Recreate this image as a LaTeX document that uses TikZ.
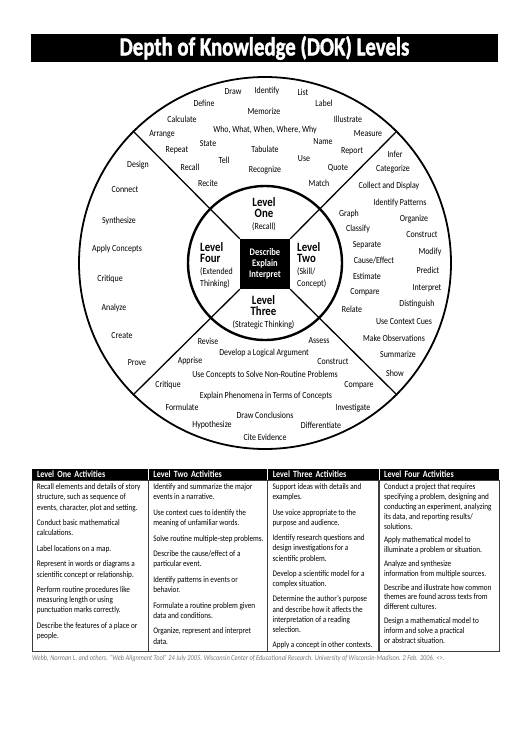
\documentclass[tikz,border=0pt]{standalone}
\usepackage{fontspec}
\setmainfont{Carlito}[FakeStretch=0.85]
\newfontfamily\titlefont{Carlito}[FakeStretch=0.8, FakeBold=1.5]
\usepackage{tikz}
\usetikzlibrary{positioning}
\definecolor{RuleGray}{RGB}{60,60,60}
\definecolor{CiteGray}{RGB}{120,120,120}
\newcommand\lvbf[1]{{\bfseries\fontsize{12.7}{11.6}\selectfont #1}}

\begin{document}
\begin{tikzpicture}[
    x=1pt, y=-1pt,
    word/.style={font=\fontsize{9.3}{10}\selectfont, inner sep=0pt},
    lvl/.style={font=\fontsize{9.3}{11.6}\selectfont, align=center, inner sep=0pt},
    hub/.style={rectangle, fill=black, minimum size=50pt, inner sep=0pt, text=white,
        align=center, font=\bfseries\fontsize{10}{11}\selectfont},
    spoke/.style={line width=1.3pt},
    head/.style={rectangle, fill=black, text=white, minimum height=11pt, inner ysep=0pt,
        inner xsep=5pt, text width=#1, align=left, font=\bfseries\fontsize{9.5}{10}\selectfont},
    cell/.style={rectangle, draw=RuleGray, line width=0.7pt, minimum height=171pt, inner sep=0pt},
    celltext/.style={anchor=north west, inner sep=0pt, align=left,
        font=\fontsize{8.5}{10.1}\selectfont},
]
\useasboundingbox (0,0) rectangle (530,749);

\node[fill=black, minimum width=467pt, minimum height=28pt, inner sep=0pt, text=white,
    font=\titlefont\bfseries\fontsize{26}{26}\selectfont] (title) at (264.5,48) {Depth of Knowledge (DOK) Levels};

\node[circle, draw, line width=1.8pt, minimum size=372pt, inner sep=0pt] (wheel) at (265,263) {};
\node[circle, draw, line width=2.4pt, minimum size=154pt, inner sep=0pt] (ring) at (265,263) {};
\node[hub] (hub) at (265,264) {Describe\\Explain\\Interpret};
\draw[spoke] (hub.north west) -- (wheel.135);
\draw[spoke] (hub.north east) -- (wheel.45);
\draw[spoke] (hub.south west) -- (wheel.225);
\draw[spoke] (hub.south east) -- (wheel.315);

\node[lvl] (one) at (264,214) {\lvbf{Level}\\\lvbf{One}\\(Recall)};
\node[lvl, align=left, anchor=west] (four) at (200,265) {\lvbf{Level}\\\lvbf{Four}\\(Extended\\Thinking)};
\node[lvl, align=left, anchor=west] (two) at (297,265) {\lvbf{Level}\\\lvbf{Two}\\(Skill/\\Concept)};
\node[lvl] (three) at (263.5,312) {\lvbf{Level}\\\lvbf{Three}\\(Strategic Thinking)};

\foreach \t/\x/\y [count=\i] in {Draw/233/92, Identify/267/91, List/303/92, Define/204/103,
    Memorize/264/111, Label/324/103, Calculate/182/119, Illustrate/348/119, Arrange/162/134,
    {Who, What, When, Where, Why}/265/130, Measure/368/134, Repeat/177/150, State/208/144,
    Tabulate/265/149, Name/323/142, Report/352/151, Tell/224/160, Use/304/159, Recall/190/167,
    Recognize/265/170, Quote/338/168, Recite/208/183, Match/319/183}
    \node[word] (one-\i) at (\x,\y) {\t};

\foreach \t/\x/\y [count=\i] in {Infer/395/154, Categorize/393/169, Collect and Display/389/186,
    Identify Patterns/400/203, Graph/349/214, Organize/414/219, Classify/358/229,
    Construct/422/235, Separate/367/245, Modify/430/252, {Cause/Effect}/374/260,
    Predict/428/270, Estimate/367/276, Interpret/427/288, Compare/365/292,
    Distinguish/417/304, Relate/352/309, Use Context Cues/404/322,
    Make Observations/394/338, Summarize/398/354, Show/395/373}
    \node[word] (two-\i) at (\x,\y) {\t};

\foreach \t/\x/\y [count=\i] in {Revise/208/341, Assess/319/341, Develop a Logical Argument/264/353,
    Apprise/190/361, Construct/333/362, Use Concepts to Solve Non-Routine Problems/265/375,
    Critique/168/385, Compare/359/385, Explain Phenomena in Terms of Concepts/266/396,
    Formulate/182/407, Investigate/353/408, Draw Conclusions/265/415, Hypothesize/212/425,
    Differentiate/321/425, Cite Evidence/265/437}
    \node[word] (three-\i) at (\x,\y) {\t};

\foreach \t/\x/\y [count=\i] in {Design/138/165, Connect/125/190, Synthesize/119/221,
    Apply Concepts/117/249, Critique/110/279, Analyze/114/308, Create/122/336, Prove/137/363}
    \node[word] (four-\i) at (\x,\y) {\t};

\node[head=106pt] (h1) at (90,474.5) {Level One Activities};
\node[head=109pt, right=0pt of h1] (h2) {Level Two Activities};
\node[head=101pt, right=0pt of h2] (h3) {Level Three Activities};
\node[head=110pt, right=0pt of h3] (h4) {Level Four Activities};
\draw[white, line width=0.8pt] (h1.north east) -- (h1.south east);
\draw[white, line width=0.8pt] (h2.north east) -- (h2.south east);
\draw[white, line width=0.8pt] (h3.north east) -- (h3.south east);

\node[cell, minimum width=116pt, below=0pt of h1] (b1) {};
\node[cell, minimum width=119pt, below=0pt of h2] (b2) {};
\node[cell, minimum width=111pt, below=0pt of h3] (b3) {};
\node[cell, minimum width=120pt, below=0pt of h4] (b4) {};

\node[celltext] (t1) at ([xshift=5pt,yshift=-3.5pt]b1.north west) {Recall elements and details of story\\structure, such as sequence of\\events, character, plot and setting.\\[5.5pt]Conduct basic mathematical\\calculations.\\[5.5pt]Label locations on a map.\\[5.5pt]Represent in words or diagrams a\\scientific concept or relationship.\\[5.5pt]Perform routine procedures like\\measuring length or using\\punctuation marks correctly.\\[5.5pt]Describe the features of a place or\\people.};
\node[celltext] (t2) at ([xshift=5pt,yshift=-3.5pt]b2.north west) {Identify and summarize the major\\events in a narrative.\\[5.5pt]Use context cues to identify the\\meaning of unfamiliar words.\\[5.5pt]Solve routine multiple-step problems.\\[5.5pt]Describe the cause/effect of a\\particular event.\\[5.5pt]Identify patterns in events or\\behavior.\\[5.5pt]Formulate a routine problem given\\data and conditions.\\[5.5pt]Organize, represent and interpret\\data.};
\node[celltext] (t3) at ([xshift=5pt,yshift=-3.5pt]b3.north west) {Support ideas with details and\\examples.\\[5.3pt]Use voice appropriate to the\\purpose and audience.\\[5.3pt]Identify research questions and\\design investigations for a\\scientific problem.\\[5.3pt]Develop a scientific model for a\\complex situation.\\[5.3pt]Determine the author’s purpose\\and describe how it affects the\\interpretation of a reading\\selection.\\[5.3pt]Apply a concept in other contexts.};
\node[celltext, font=\fontsize{8.5}{9.8}\selectfont] (t4) at ([xshift=5pt,yshift=-3.5pt]b4.north west) {Conduct a project that requires\\specifying a problem, designing and\\conducting an experiment, analyzing\\its data, and reporting results/\\solutions.\\[4pt]Apply mathematical model to\\illuminate a problem or situation.\\[4pt]Analyze and synthesize\\information from multiple sources.\\[4pt]Describe and illustrate how common\\themes are found across texts from\\different cultures.\\[4pt]Design a mathematical model to\\inform and solve a practical\\or abstract situation.};

\node[anchor=west, inner sep=0pt, text=CiteGray, font=\itshape\fontsize{7.5}{8}\selectfont] (src) at (32,658) {Webb, Norman L. and others. “Web Alignment Tool” 24 July 2005. Wisconsin Center of Educational Research. University of Wisconsin-Madison. 2 Feb. 2006. <>.};
\end{tikzpicture}
\end{document}
